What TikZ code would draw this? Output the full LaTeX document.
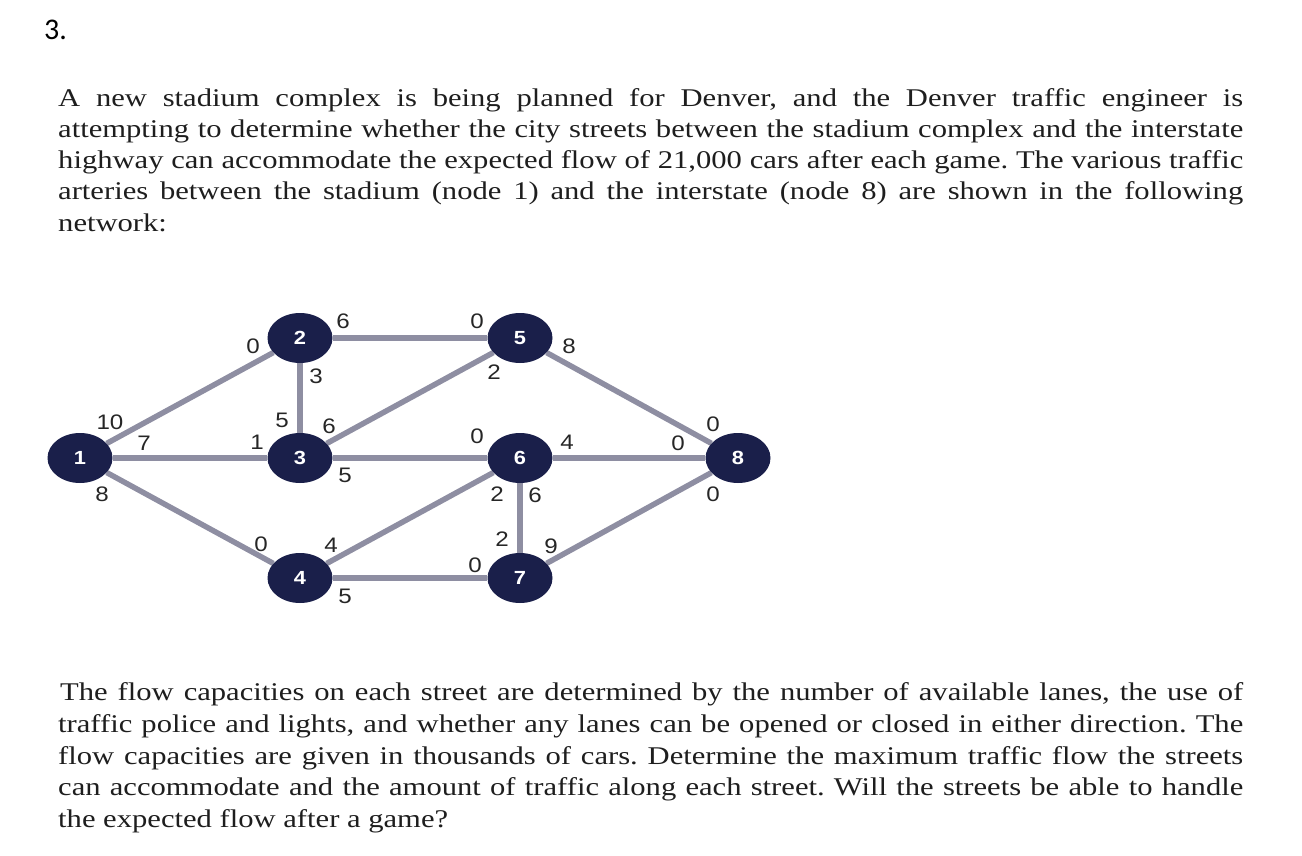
\documentclass[tikz,border=0pt]{standalone}
\usepackage{fontspec}
\setmainfont{Liberation Serif}[FakeStretch=1.2]
\newfontfamily\labfont{Liberation Sans}[FakeStretch=1.15]
\newfontfamily\numfont{Carlito}
\usetikzlibrary{shapes.geometric,backgrounds}
\definecolor{navy}{RGB}{26,31,74}
\definecolor{edgegray}{RGB}{142,142,162}
\definecolor{txt}{RGB}{30,30,30}
\frenchspacing
\tikzset{
  netnode/.style={ellipse,fill=navy,minimum width=65pt,minimum height=50pt,inner sep=0pt,
    text=white,font=\labfont\bfseries\fontsize{19}{19}\selectfont},
  street/.style={draw=edgegray,line width=5.5pt},
  capacity/.style={font=\labfont\fontsize{21}{21}\selectfont,text=black!85,inner sep=0pt,anchor=center},
  para/.style={anchor=base west,inner sep=0pt,text=txt,font=\fontsize{25.5}{31.5}\selectfont},
}
\newcommand{\jline}[1]{\makebox[1185pt][s]{#1}}
\begin{document}
\begin{tikzpicture}[x=1pt,y=1pt]
\useasboundingbox (0,0) rectangle (1302,-856);
% heading
\node[anchor=base west,inner sep=0pt,font=\numfont\fontsize{30}{30}\selectfont] (h) at (44,-40) {3.};
% paragraph 1
\node[para] (p1a) at (58,-107) {\jline{A new stadium complex is being planned for Denver, and the Denver traffic engineer is}};
\node[para] (p1b) at (58,-138) {\jline{attempting to determine whether the city streets between the stadium complex and the interstate}};
\node[para] (p1c) at (58,-169) {\jline{highway can accommodate the expected flow of 21,000 cars after each game. The various traffic}};
\node[para] (p1d) at (58,-200) {\jline{arteries between the stadium (node 1) and the interstate (node 8) are shown in the following}};
\node[para] (p1e) at (58,-231) {network:};
% paragraph 2
\node[para] (p2a) at (60,-700) {\makebox[1183pt][s]{The flow capacities on each street are determined by the number of available lanes, the use of}};
\node[para] (p2b) at (58,-732) {\jline{traffic police and lights, and whether any lanes can be opened or closed in either direction. The}};
\node[para] (p2c) at (58,-764) {\jline{flow capacities are given in thousands of cars. Determine the maximum traffic flow the streets}};
\node[para] (p2d) at (58,-795) {\jline{can accommodate and the amount of traffic along each street. Will the streets be able to handle}};
\node[para] (p2e) at (58,-827) {the expected flow after a game?};
% network nodes
\node[netnode] (n1) at (80,-458) {1};
\node[netnode] (n2) at (300,-338) {2};
\node[netnode] (n3) at (300,-458) {3};
\node[netnode] (n4) at (300,-578) {4};
\node[netnode] (n5) at (520,-338) {5};
\node[netnode] (n6) at (520,-458) {6};
\node[netnode] (n7) at (520,-578) {7};
\node[netnode] (n8) at (738,-458) {8};
\begin{scope}[on background layer]
\draw[street] (n1) -- (n2);
\draw[street] (n1) -- (n3);
\draw[street] (n1) -- (n4);
\draw[street] (n2) -- (n3);
\draw[street] (n2) -- (n5);
\draw[street] (n3) -- (n5);
\draw[street] (n3) -- (n6);
\draw[street] (n4) -- (n6);
\draw[street] (n4) -- (n7);
\draw[street] (n5) -- (n8);
\draw[street] (n6) -- (n8);
\draw[street] (n6) -- (n7);
\draw[street] (n7) -- (n8);
\end{scope}
% capacities
\node[capacity] (c1) at (110,-422) {10};
\node[capacity] (c2) at (144,-443) {7};
\node[capacity] (c3) at (102,-494) {8};
\node[capacity] (c4) at (253,-346) {0};
\node[capacity] (c5) at (343,-321) {6};
\node[capacity] (c6) at (316,-376) {3};
\node[capacity] (c7) at (282,-420) {5};
\node[capacity] (c8) at (257,-442) {1};
\node[capacity] (c9) at (329,-426) {6};
\node[capacity] (c10) at (345,-475) {5};
\node[capacity] (c11) at (261,-544) {0};
\node[capacity] (c12) at (331,-545) {4};
\node[capacity] (c13) at (345,-596) {5};
\node[capacity] (c14) at (477,-321) {0};
\node[capacity] (c15) at (494,-372) {2};
\node[capacity] (c16) at (569,-346) {8};
\node[capacity] (c17) at (477,-436) {0};
\node[capacity] (c18) at (567,-442) {4};
\node[capacity] (c19) at (497,-494) {2};
\node[capacity] (c20) at (535,-495) {6};
\node[capacity] (c21) at (502,-539) {2};
\node[capacity] (c22) at (475,-565) {0};
\node[capacity] (c23) at (551,-546) {9};
\node[capacity] (c24) at (713,-424) {0};
\node[capacity] (c25) at (678,-443) {0};
\node[capacity] (c26) at (713,-494) {0};
\end{tikzpicture}
\end{document}
